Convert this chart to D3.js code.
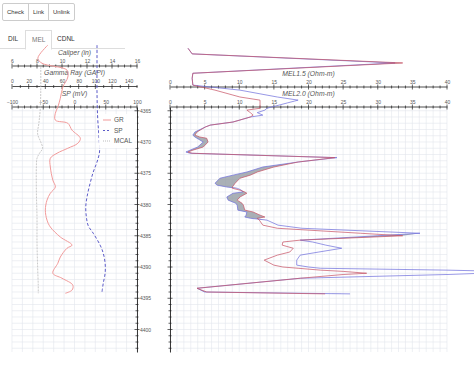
<!DOCTYPE html>
<html>
<head>
<meta charset="utf-8">
<script src="https://cdn.jsdelivr.net/npm/d3@7"></script>
<style>
	body { margin: 0; font-family: "Liberation Sans", Arial, sans-serif; background: #fff; }
	#page { position: relative; width: 474px; height: 365px; overflow: hidden; }
	.btns { position: absolute; left: 2px; top: 3px; display: flex; }
	.btns div { font-size: 6px; color: #333; border: 1px solid #ccc; padding: 5px 4px; margin-left: -1px; background: #fff; }
	.btns div:first-child { border-radius: 2px 0 0 2px; margin-left: 0; }
	.btns div:last-child { border-radius: 0 2px 2px 0; }
	.tabs { position: absolute; left: 0; top: 30px; width: 125px; height: 18px; border-bottom: 1px solid #ddd; }
	.tabs div { position: absolute; top: 0; height: 18px; line-height: 18px; font-size: 6.5px; color: #333; }
	.tabs .active { border: 1px solid #ddd; border-bottom: 1px solid #fff; background: #fff; color: #777; padding: 0 6px; height: 18px; }
	svg { position: absolute; left: 0; top: 0; }
</style>
</head>
<body>
<div id="page">
	<div class="btns"><div>Check</div><div>Link</div><div>Unlink</div></div>
	<div class="tabs">
		<div style="left:8px">DIL</div>
		<div class="active" style="left:25px">MEL</div>
		<div style="left:57px">CDNL</div>
	</div>
	<svg id="logs" width="474" height="365"></svg>
</div>
<script>
// depth track data (ft)
const grDepth = [4354.5, 4356.6, 4357.4, 4358.5, 4359.6, 4361.2, 4363.0, 4364.4, 4365.4, 4366.5, 4367.0, 4368.1, 4369.4, 4370.2, 4371.0, 4371.8, 4372.6, 4374.0, 4376.1, 4377.2, 4378.2, 4379.3, 4380.9, 4382.5, 4383.6, 4385.2, 4386.5, 4387.0, 4388.4, 4389.4, 4391.0, 4391.8, 4392.9, 4393.7, 4394.2];
const grValue = [43, 31, 36, 66, 67, 61, 58, 55, 52, 52, 67, 72, 82, 79, 67, 54, 46, 46, 49, 52, 46, 42, 40, 42, 46, 58, 72, 66, 58, 55, 49, 60, 73, 72, 64];

const spDepth = [4354.5, 4358, 4362, 4366, 4369, 4371.6, 4373.2, 4374.8, 4376.6, 4378.8, 4380.4, 4382.0, 4383.4, 4384.6, 4386.5, 4387.8, 4389.4, 4391.0, 4392.6, 4394.0];
const spValue = [36, 36, 36, 37, 39, 40, 36, 30, 25, 20, 18, 19, 22, 30, 41, 46, 49, 49, 46, 44];

const mcalDepth = [4358, 4362, 4365, 4367, 4368.7, 4370, 4371, 4371.8, 4372.6, 4374, 4378, 4382, 4386, 4390, 4393, 4394.2];
const mcalValue = [8.3, 8.3, 8.25, 8.15, 8.05, 8.3, 8.45, 8.2, 8.0, 7.95, 7.95, 8.0, 8.0, 8.05, 8.1, 8.1];

const melDepth = [4355.0, 4355.9, 4357.35, 4359.0, 4359.8, 4360.9, 4361.7, 4362.8, 4363.3, 4364.6, 4364.9, 4365.3, 4365.7, 4366.0, 4366.8, 4367.3, 4367.6, 4368.4, 4368.9, 4369.2, 4369.4, 4370.0, 4370.8, 4371.3, 4371.6, 4371.8, 4372.5, 4373.2, 4374.0, 4374.8, 4375.3, 4375.8, 4376.6, 4376.9, 4377.2, 4377.4, 4377.7, 4378.0, 4378.2, 4378.8, 4379.3, 4379.8, 4380.1, 4380.9, 4381.2, 4381.7, 4382.0, 4382.2, 4382.5, 4383.3, 4383.8, 4384.6, 4385.0, 4385.7, 4386.0, 4386.5, 4387.0, 4387.6, 4388.1, 4388.9, 4389.7, 4390.0, 4390.2, 4390.5, 4390.7, 4391.0, 4391.2, 4391.8, 4393.4, 4394.0, 4394.3];
const mel15 = [2.6, 3.2, 33.6, 3.3, 3.2, 3.3, 6.5, 10.1, 13.0, 13.0, 11.1, 11.6, 12.0, 11.6, 9.1, 5.8, 5.1, 3.9, 3.6, 4.3, 5.3, 5.5, 4.8, 3.3, 2.6, 3.2, 23.8, 18.5, 15.0, 12.6, 11.6, 10.1, 9.4, 9.2, 9.0, 9.0, 10.1, 10.8, 11.1, 10.1, 9.7, 10.4, 10.6, 10.8, 12.0, 13.0, 13.7, 12.6, 12.9, 13.4, 15.5, 27.5, 33.6, 18.8, 16.3, 16.2, 17.8, 17.3, 15.5, 13.6, 15.0, 16.3, 18.5, 21.7, 25.0, 28.4, 25.0, 18.8, 3.9, 5.3, 22.4];
const mel20 = [2.6, 3.2, 32.5, 3.3, 3.2, 3.3, 10.1, 15.5, 18.5, 14.0, 13.7, 12.6, 13.4, 11.6, 9.1, 5.8, 5.1, 3.6, 3.3, 3.6, 3.9, 4.8, 4.0, 2.9, 2.3, 2.9, 24.1, 18.5, 13.4, 11.1, 9.1, 7.2, 6.5, 6.8, 8.2, 9.7, 10.3, 10.5, 9.1, 8.2, 8.4, 9.5, 9.7, 9.8, 11.1, 11.0, 10.8, 11.6, 14.0, 15.6, 19.0, 36.1, 30.0, 18.8, 20.6, 22.5, 24.8, 21.5, 18.8, 18.3, 18.3, 20.0, 21.7, 40, 48, 45, 40, 18.8, 3.9, 5.0, 26.0];

const depthMajor = [4365, 4370, 4375, 4380, 4385, 4390, 4395, 4400];

const svg = d3.select("#logs");
const font = "'Liberation Sans', Arial, sans-serif";

const y = d3.scaleLinear().domain([4364.4, 4403.6]).range([107, 352]);
const xCal = d3.scaleLinear().domain([6, 16]).range([12, 137]);
const xGR = d3.scaleLinear().domain([0, 150]).range([12, 137]);
const xSP = d3.scaleLinear().domain([-100, 100]).range([12, 137]);
const xMel = d3.scaleLinear().domain([0, 40]).range([170, 447]);
const xGrid = d3.scaleLinear().domain([0, 12]).range([12, 137]);

// grids
function drawGrid(x0, x1, vx) {
	const g = svg.append("g").attr("stroke", "#e3e5ec").attr("stroke-width", 0.6);
	d3.range(4365, 4404).forEach((d) => {
		g.append("line").attr("x1", x0).attr("x2", x1).attr("y1", y(d)).attr("y2", y(d));
	});
	vx.forEach((v) => {
		g.append("line").attr("x1", v).attr("x2", v).attr("y1", y.range()[0]).attr("y2", y.range()[1]);
	});
}
drawGrid(12, 137, d3.range(0, 13).map(xGrid));
drawGrid(170, 447, d3.range(0, 41).map(xMel));

// header axes
function headerAxis(scale, major, minorStep, yPos, title) {
	const g = svg.append("g").attr("transform", `translate(0,${yPos})`);
	g.call(d3.axisTop(scale).tickValues(major).tickSizeInner(0).tickSizeOuter(0).tickPadding(3))
		.call((a) => a.select(".domain").attr("stroke", "#222").attr("stroke-width", 0.8));
	g.selectAll(".tick text").attr("font-size", 5).attr("font-family", font).attr("fill", "#555");
	const [a, b] = scale.domain();
	d3.range(a, b + minorStep / 2, minorStep).forEach((v) => {
		const isMajor = major.some((m) => Math.abs(m - v) < 1e-6);
		g.append("line")
			.attr("x1", scale(v)).attr("x2", scale(v))
			.attr("y1", isMajor ? -2 : -1).attr("y2", isMajor ? 3 : 2)
			.attr("stroke", "#222").attr("stroke-width", 0.7);
	});
	g.append("text")
		.attr("x", (scale.range()[0] + scale.range()[1]) / 2)
		.attr("y", -11)
		.attr("text-anchor", "middle")
		.attr("font-size", 6.8).attr("font-style", "italic")
		.attr("font-family", font).attr("fill", "#555")
		.text(title);
}
headerAxis(xCal, [6, 8, 10, 12, 14, 16], 0.5, 65.5, "Caliper (in)");
headerAxis(xGR, [0, 20, 40, 60, 80, 100, 120, 140], 10, 86, "Gamma Ray (GAPI)");
headerAxis(xSP, [-100, -50, 0, 50, 100], 10, 106.5, "SP (mV)");
headerAxis(xMel, [0, 5, 10, 15, 20, 25, 30, 35, 40], 1, 86.5, "MEL1.5 (Ohm-m)");
headerAxis(xMel, [0, 5, 10, 15, 20, 25, 30, 35, 40], 1, 106.5, "MEL2.0 (Ohm-m)");

// depth axes
function depthAxis(xPos, labels) {
	const g = svg.append("g").attr("transform", `translate(${xPos},0)`);
	const ax = d3.axisRight(y).tickValues(depthMajor).tickFormat(d3.format("d"))
		.tickSizeInner(0).tickSizeOuter(0).tickPadding(3);
	g.call(ax).call((a) => a.select(".domain").attr("stroke", "#222").attr("stroke-width", 0.9));
	g.selectAll(".tick text").attr("font-size", 5).attr("font-family", font).attr("fill", "#555")
		.style("display", labels ? null : "none");
	d3.range(4365, 4404).forEach((d) => {
		const isMajor = d % 5 === 0;
		g.append("line").attr("x1", isMajor ? -2.5 : -1.5).attr("x2", isMajor ? 2.5 : 1.5)
			.attr("y1", y(d)).attr("y2", y(d)).attr("stroke", "#222").attr("stroke-width", 0.7);
	});
}
depthAxis(137, true);
depthAxis(170, false);

// left track curves
const zip = (ds, vs) => ds.map((d, i) => ({ d, v: vs[i] }));
const lineOf = (xs, curve) => d3.line().x((p) => xs(p.v)).y((p) => y(p.d)).curve(curve);

svg.append("path").datum(zip(mcalDepth, mcalValue))
	.attr("d", lineOf(xCal, d3.curveCatmullRom))
	.attr("fill", "none").attr("stroke", "#bcbcbc").attr("stroke-width", 0.8).attr("stroke-dasharray", "2,1");
svg.append("path").datum(zip(grDepth, grValue))
	.attr("d", lineOf(xGR, d3.curveCatmullRom))
	.attr("fill", "none").attr("stroke", "#f29a9a").attr("stroke-width", 1);
svg.append("path").datum(zip(spDepth, spValue))
	.attr("d", lineOf(xSP, d3.curveCatmullRom))
	.attr("fill", "none").attr("stroke", "#5b5bc9").attr("stroke-width", 1).attr("stroke-dasharray", "3,2");

// legend
const legend = svg.append("g").attr("transform", "translate(99,114)");
legend.append("rect").attr("width", 38).attr("height", 34).attr("fill", "#fff").attr("opacity", 0.9);
const legendItems = [
	{ name: "GR", color: "#f29a9a", dash: null },
	{ name: "SP", color: "#5b5bc9", dash: "2,2" },
	{ name: "MCAL", color: "#bcbcbc", dash: "1,1" },
];
legendItems.forEach((it, i) => {
	const yy = 6 + i * 10.5;
	legend.append("line").attr("x1", 4).attr("x2", 12).attr("y1", yy).attr("y2", yy)
		.attr("stroke", it.color).attr("stroke-width", 1).attr("stroke-dasharray", it.dash);
	legend.append("text").attr("x", 15).attr("y", yy + 2.2)
		.attr("font-size", 6.5).attr("font-family", font).attr("fill", "#555").text(it.name);
});

// right track: MEL curves with crossover fill
const mel = melDepth.map((d, i) => ({ d, a: mel15[i], b: mel20[i] }));
svg.append("path").datum(mel)
	.attr("d", d3.area().y((p) => y(p.d)).x0((p) => xMel(p.b)).x1((p) => xMel(Math.max(p.a, p.b))))
	.attr("fill", "#8e959e").attr("opacity", 0.75);
svg.append("path").datum(mel)
	.attr("d", d3.line().x((p) => xMel(p.b)).y((p) => y(p.d)))
	.attr("fill", "none").attr("stroke", "#7070dc").attr("stroke-width", 0.9).attr("opacity", 0.8);
svg.append("path").datum(mel)
	.attr("d", d3.line().x((p) => xMel(p.a)).y((p) => y(p.d)))
	.attr("fill", "none").attr("stroke", "#c75466").attr("stroke-width", 0.9).attr("opacity", 0.8);
</script>
</body>
</html>
